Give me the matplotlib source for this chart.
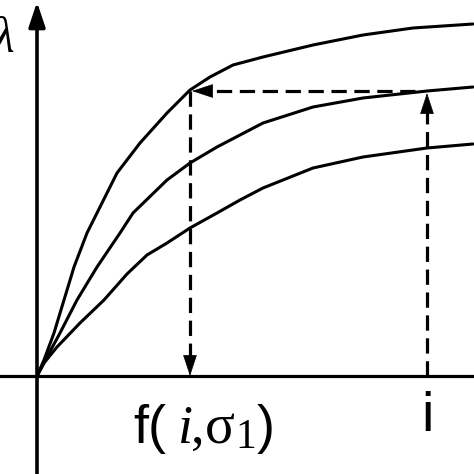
import matplotlib
matplotlib.use("Agg")
from matplotlib import pyplot as plt

plt.rcParams['lines.scale_dashes'] = False

top_x = [0, 7, 17, 27, 37, 50, 63, 80, 103, 130, 153, 173, 196, 226, 276, 326, 376, 436]
top_y = [0, 16, 43, 76, 109, 143, 169, 203, 233, 263, 286, 299, 311, 319, 331, 341, 348, 352]
mid_x = [0, 10, 23, 40, 60, 83, 96, 130, 153, 180, 203, 226, 276, 326, 390, 436]
mid_y = [0, 19, 43, 76, 109, 143, 163, 196, 213, 229, 241, 253, 269, 278, 285, 289]
low_x = [0, 7, 20, 43, 67, 90, 110, 130, 153, 180, 203, 226, 276, 326, 390, 436]
low_y = [0, 13, 29, 53, 76, 102, 121, 133, 148, 163, 176, 188, 208, 219, 228, 232]

i_x = 390      # position of i
f_x = 153      # position of f(i, sigma1)
level = 285    # common ordinate

fig = plt.figure(figsize=(4.74, 4.74), dpi=100)
ax = fig.add_axes([0, 0, 1, 1])
ax.set_xlim(-37, 437)
ax.set_ylim(-98, 376)
ax.axis('off')

# axes
ax.axhline(0, color='black', lw=2.3)
ax.annotate('', xy=(0, 374), xytext=(0, -98),
            arrowprops=dict(arrowstyle='-|>,head_length=15,head_width=5',
                            mutation_scale=1, lw=2.6, color='black',
                            shrinkA=0, shrinkB=0))

for xs, ys in [(top_x, top_y), (mid_x, mid_y), (low_x, low_y)]:
    ax.plot(xs, ys, color='black', lw=2.2, solid_capstyle='round',
            solid_joinstyle='round')

# dashed construction lines
dash = dict(color='black', lw=2.3, dashes=(11, 5.5))
ax.plot([i_x, i_x], [0, level - 18], **dash)
ax.plot([i_x - 12, f_x + 18], [level, level], **dash)
ax.plot([f_x, f_x], [level, 18], **dash)

head = dict(arrowstyle='-|>,head_length=14,head_width=4.6', mutation_scale=1,
            lw=0.5, color='black', shrinkA=0, shrinkB=0)
ax.annotate('', xy=(i_x, level - 2), xytext=(i_x, level - 22), arrowprops=head)
ax.annotate('', xy=(f_x + 2, level), xytext=(f_x + 22, level), arrowprops=head)
ax.annotate('', xy=(f_x, 0), xytext=(f_x, 20), arrowprops=head)

# labels
ax.text(i_x, -55, 'i', fontsize=40, family='Liberation Sans',
        ha='center', va='baseline')
ax.text(96, -67, 'f(', fontsize=39, family='Liberation Sans',
        ha='left', va='baseline')
ax.text(141, -67, 'i', fontsize=39, family='Liberation Serif', style='italic',
        ha='left', va='baseline')
ax.text(154, -67, ',', fontsize=39, family='Liberation Serif',
        ha='left', va='baseline')
ax.text(168, -67, 'σ', fontsize=40, family='Liberation Serif',
        ha='left', va='baseline')
ax.text(198, -72, '1', fontsize=30, family='Liberation Serif',
        ha='left', va='baseline')
ax.text(220, -67, ')', fontsize=39, family='Liberation Sans',
        ha='left', va='baseline')
ax.text(-23, 324, 'λ', fontsize=36, family='Liberation Serif', style='italic',
        ha='right', va='baseline')

fig.savefig('out.png', dpi=100)
